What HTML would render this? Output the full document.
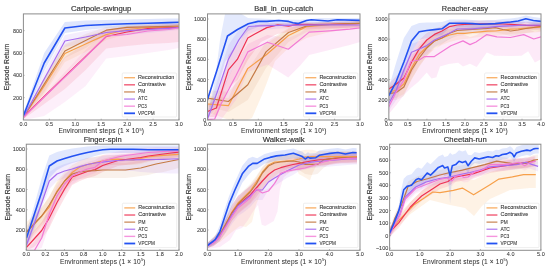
<!DOCTYPE html>
<html><head><meta charset="utf-8"><style>
html,body{margin:0;padding:0;background:#fff;width:550px;height:268px;overflow:hidden}
svg{display:block;filter:blur(0.3px)}
text{font-family:"Liberation Sans",sans-serif;fill:#333333;stroke:#333333;stroke-width:0.00px}
.tk{font-size:5.50px;stroke-width:0.05px}
.ti{font-size:7.0px;stroke-width:0.15px}
.xl{font-size:6.6px;stroke-width:0.05px}
.yl{font-size:6.5px;stroke-width:0.15px}
.lg{font-size:5.3px;stroke-width:0.08px}
</style></head><body>
<svg width="550" height="268" viewBox="0 0 550 268">
<rect width="550" height="268" fill="#fff"/>
<clipPath id="c0"><rect x="23.4" y="13.9" width="155.6" height="106.1"/></clipPath>
<g clip-path="url(#c0)">
<polygon points="23.5,116.0 44.2,95.0 64.9,72.0 85.6,50.0 106.3,30.0 127.0,28.0 147.7,27.0 168.4,25.0 178.8,24.0 178.8,48.0 168.4,50.0 147.7,53.0 127.0,56.0 106.3,58.6 85.6,86.0 64.9,102.0 44.2,116.0 23.5,120.0" fill="#f27ad6" fill-opacity="0.12"/>
<polygon points="23.5,115.0 44.2,84.0 64.9,57.0 85.6,43.0 106.3,30.0 127.0,27.0 147.7,25.0 168.4,24.0 178.8,23.5 178.8,42.0 168.4,43.0 147.7,44.0 127.0,46.0 106.3,48.5 85.6,70.0 64.9,89.0 44.2,104.0 23.5,119.0" fill="#ee3152" fill-opacity="0.11"/>
<polygon points="23.5,115.0 44.2,78.0 64.9,45.0 85.6,36.0 106.3,30.0 127.0,26.0 147.7,25.0 168.4,24.5 178.8,24.0 178.8,29.5 168.4,30.0 147.7,31.0 127.0,34.0 106.3,40.0 85.6,52.0 64.9,62.0 44.2,94.0 23.5,119.0" fill="#f7a04a" fill-opacity="0.12"/>
<polygon points="23.5,115.0 44.2,78.0 64.9,44.0 85.6,34.0 106.3,27.0 127.0,24.5 147.7,24.0 168.4,23.5 178.8,23.0 178.8,29.0 168.4,29.0 147.7,30.0 127.0,31.0 106.3,34.0 85.6,48.0 64.9,58.0 44.2,92.0 23.5,119.0" fill="#c47a45" fill-opacity="0.10"/>
<polygon points="23.5,115.0 44.2,72.0 64.9,35.0 85.6,31.0 106.3,28.0 127.0,26.5 147.7,26.0 168.4,25.0 178.8,24.5 178.8,30.0 168.4,31.0 147.7,33.0 127.0,35.0 106.3,37.0 85.6,43.0 64.9,47.0 44.2,88.0 23.5,119.0" fill="#a66cf0" fill-opacity="0.12"/>
<polygon points="23.5,113.0 44.2,53.0 64.9,22.0 85.6,20.5 106.3,20.0 127.0,19.5 147.7,19.0 168.4,18.5 178.8,18.5 178.8,25.0 168.4,25.5 147.7,26.0 127.0,27.0 106.3,28.0 85.6,30.0 64.9,33.0 44.2,71.0 23.5,118.0" fill="#2352f2" fill-opacity="0.15"/>
<polyline points="23.5,117.0 44.2,86.0 64.9,53.5 85.6,44.0 106.3,34.6 127.0,29.5 147.7,27.5 168.4,27.1 178.8,26.8" fill="none" stroke="#f7a04a" stroke-width="1.20" stroke-linejoin="round"/>
<polyline points="23.5,117.0 44.2,96.5 64.9,76.5 85.6,56.5 106.3,36.5 127.0,32.0 147.7,28.5 168.4,27.9 178.8,27.4" fill="none" stroke="#ee3152" stroke-width="1.20" stroke-linejoin="round"/>
<polyline points="23.5,117.0 44.2,84.0 64.9,51.0 85.6,40.5 106.3,30.2 127.0,27.3 147.7,26.8 168.4,26.4 178.8,26.0" fill="none" stroke="#c47a45" stroke-width="1.20" stroke-linejoin="round"/>
<polyline points="23.5,117.0 44.2,79.0 64.9,41.0 85.6,37.0 106.3,32.5 127.0,30.7 147.7,29.5 168.4,28.3 178.8,27.5" fill="none" stroke="#a66cf0" stroke-width="1.20" stroke-linejoin="round"/>
<polyline points="23.5,117.3 44.2,97.0 64.9,77.0 85.6,57.0 106.3,36.0 127.0,34.5 147.7,31.0 168.4,29.5 178.8,28.0" fill="none" stroke="#f27ad6" stroke-width="1.20" stroke-linejoin="round"/>
<polyline points="23.5,115.5 44.2,63.0 64.9,28.0 85.6,25.5 106.3,24.5 127.0,23.7 147.7,23.2 168.4,22.6 178.8,22.3" fill="none" stroke="#2352f2" stroke-width="1.60" stroke-linejoin="round"/>
</g>
<line x1="23.40" y1="118.70" x2="23.40" y2="120.00" stroke="#8c8c8c" stroke-width="0.6"/>
<text x="23.40" y="125.60" text-anchor="middle" class="tk">0.0</text>
<line x1="49.33" y1="118.70" x2="49.33" y2="120.00" stroke="#8c8c8c" stroke-width="0.6"/>
<text x="49.33" y="125.60" text-anchor="middle" class="tk">0.5</text>
<line x1="75.27" y1="118.70" x2="75.27" y2="120.00" stroke="#8c8c8c" stroke-width="0.6"/>
<text x="75.27" y="125.60" text-anchor="middle" class="tk">1.0</text>
<line x1="101.20" y1="118.70" x2="101.20" y2="120.00" stroke="#8c8c8c" stroke-width="0.6"/>
<text x="101.20" y="125.60" text-anchor="middle" class="tk">1.5</text>
<line x1="127.14" y1="118.70" x2="127.14" y2="120.00" stroke="#8c8c8c" stroke-width="0.6"/>
<text x="127.14" y="125.60" text-anchor="middle" class="tk">2.0</text>
<line x1="153.07" y1="118.70" x2="153.07" y2="120.00" stroke="#8c8c8c" stroke-width="0.6"/>
<text x="153.07" y="125.60" text-anchor="middle" class="tk">2.5</text>
<line x1="179.01" y1="118.70" x2="179.01" y2="120.00" stroke="#8c8c8c" stroke-width="0.6"/>
<text x="179.01" y="125.60" text-anchor="middle" class="tk">3.0</text>
<line x1="23.40" y1="97.67" x2="24.70" y2="97.67" stroke="#8c8c8c" stroke-width="0.6"/>
<text x="22.10" y="99.77" text-anchor="end" class="tk">200</text>
<line x1="23.40" y1="75.33" x2="24.70" y2="75.33" stroke="#8c8c8c" stroke-width="0.6"/>
<text x="22.10" y="77.43" text-anchor="end" class="tk">400</text>
<line x1="23.40" y1="53.00" x2="24.70" y2="53.00" stroke="#8c8c8c" stroke-width="0.6"/>
<text x="22.10" y="55.10" text-anchor="end" class="tk">600</text>
<line x1="23.40" y1="30.66" x2="24.70" y2="30.66" stroke="#8c8c8c" stroke-width="0.6"/>
<text x="22.10" y="32.76" text-anchor="end" class="tk">800</text>
<rect x="23.40" y="13.90" width="155.60" height="106.10" fill="none" stroke="#8c8c8c" stroke-width="1.00"/>
<text x="101.20" y="11.40" text-anchor="middle" class="ti" textLength="60.4" lengthAdjust="spacingAndGlyphs">Cartpole-swingup</text>
<text x="101.20" y="133.20" text-anchor="middle" class="xl" textLength="85.4" lengthAdjust="spacing">Environment steps (1 × 10<tspan dy="-2.2" font-size="3.8">5</tspan><tspan dy="2.2">)</tspan></text>
<text transform="translate(9.30,66.95) rotate(-90)" text-anchor="middle" class="yl" textLength="46.4" lengthAdjust="spacingAndGlyphs">Episode Return</text>
<rect x="122.20" y="73.00" width="54.40" height="44.00" rx="1" fill="#fff" fill-opacity="0.8" stroke="#e2e2e2" stroke-width="0.6"/>
<line x1="124.10" y1="77.70" x2="135.00" y2="77.70" stroke="#f7a04a" stroke-width="1.40" stroke-opacity="0.80"/>
<text x="138.10" y="79.10" class="lg" textLength="36.3" lengthAdjust="spacingAndGlyphs">Reconstruction</text>
<line x1="124.10" y1="84.82" x2="135.00" y2="84.82" stroke="#ee3152" stroke-width="1.40" stroke-opacity="0.80"/>
<text x="138.10" y="86.22" class="lg" textLength="27.8" lengthAdjust="spacingAndGlyphs">Contrastive</text>
<line x1="124.10" y1="91.94" x2="135.00" y2="91.94" stroke="#c47a45" stroke-width="1.40" stroke-opacity="0.80"/>
<text x="138.10" y="93.34" class="lg" textLength="7.2" lengthAdjust="spacingAndGlyphs">PM</text>
<line x1="124.10" y1="99.06" x2="135.00" y2="99.06" stroke="#a66cf0" stroke-width="1.40" stroke-opacity="0.80"/>
<text x="138.10" y="100.46" class="lg" textLength="9.4" lengthAdjust="spacingAndGlyphs">ATC</text>
<line x1="124.10" y1="106.18" x2="135.00" y2="106.18" stroke="#f27ad6" stroke-width="1.40" stroke-opacity="0.80"/>
<text x="138.10" y="107.58" class="lg" textLength="8.7" lengthAdjust="spacingAndGlyphs">PC3</text>
<line x1="124.10" y1="113.30" x2="135.00" y2="113.30" stroke="#2352f2" stroke-width="1.80" stroke-opacity="1.00"/>
<text x="138.10" y="114.70" class="lg" textLength="16.6" lengthAdjust="spacingAndGlyphs">VPCPM</text>
<clipPath id="c1"><rect x="207.5" y="13.9" width="152.5" height="106.1"/></clipPath>
<g clip-path="url(#c1)">
<polygon points="207.5,96.0 228.4,98.0 247.8,55.0 252.0,52.0 262.0,46.0 266.0,44.0 275.0,38.0 288.5,29.0 306.5,23.0 330.0,22.0 350.0,21.5 360.0,21.0 360.0,28.0 350.0,29.0 330.0,32.0 306.5,38.0 288.5,48.0 275.0,61.0 266.0,85.0 262.0,95.0 252.0,118.0 247.8,119.7 228.4,119.7 207.5,112.0" fill="#f7a04a" fill-opacity="0.14"/>
<polygon points="207.5,90.0 228.4,92.0 247.8,70.0 266.0,42.0 288.5,28.0 306.5,23.0 330.0,22.0 350.0,21.5 360.0,21.0 360.0,27.0 350.0,28.0 330.0,29.0 306.5,32.0 288.5,42.0 266.0,68.0 247.8,100.0 228.4,112.0 207.5,106.0" fill="#c47a45" fill-opacity="0.10"/>
<polygon points="207.5,119.0 214.7,112.0 221.0,92.0 235.9,62.0 247.8,44.0 267.4,35.0 288.3,38.0 300.0,33.0 309.2,26.0 329.5,25.0 349.8,24.5 360.0,24.0 360.0,42.0 349.8,45.0 329.5,50.0 309.2,55.0 300.0,65.7 288.3,77.4 267.4,64.4 247.8,72.0 235.9,100.0 221.0,119.7 214.7,119.7 207.5,119.7" fill="#f27ad6" fill-opacity="0.16"/>
<polygon points="207.5,104.0 216.4,100.0 228.4,55.0 237.3,45.0 247.8,28.0 260.9,24.0 277.4,23.0 300.0,22.5 315.0,22.5 340.0,21.5 360.0,21.0 360.0,27.0 340.0,28.0 315.0,29.0 300.0,30.0 277.4,34.0 260.9,42.0 247.8,60.0 237.3,80.0 228.4,88.0 216.4,117.0 207.5,117.0" fill="#ee3152" fill-opacity="0.14"/>
<polygon points="207.5,114.0 218.0,78.0 228.4,45.0 238.8,30.0 248.5,22.5 260.0,22.5 280.0,22.5 300.0,22.5 320.0,22.5 340.0,22.5 360.0,22.5 360.0,27.5 340.0,27.5 320.0,27.5 300.0,28.0 280.0,28.5 260.0,30.0 248.5,34.0 238.8,56.0 228.4,78.0 218.0,105.0 207.5,119.7" fill="#a66cf0" fill-opacity="0.12"/>
<polygon points="207.5,112.0 212.0,95.0 216.0,72.0 220.0,40.0 225.0,14.0 240.0,13.0 248.0,18.0 260.0,18.5 280.0,19.5 300.0,19.8 320.0,18.0 340.0,18.0 360.0,18.0 360.0,23.2 340.0,23.5 320.0,24.0 300.0,26.0 280.0,26.0 260.0,26.0 248.0,31.0 240.0,40.0 225.0,62.0 220.0,80.0 216.0,95.0 212.0,110.0 207.5,119.7" fill="#2352f2" fill-opacity="0.12"/>
<polyline points="207.5,104.0 228.4,105.7 247.8,68.4 266.0,55.0 288.5,35.5 306.5,26.6 330.0,24.6 350.0,23.8 360.0,23.3" fill="none" stroke="#f7a04a" stroke-width="1.20" stroke-linejoin="round"/>
<polyline points="207.5,111.5 216.4,108.0 228.4,69.9 237.3,59.4 247.8,38.0 254.8,34.0 266.8,27.6 277.7,24.9 288.6,26.2 297.3,24.4 315.0,24.5 340.0,24.0 360.0,23.5" fill="none" stroke="#ee3152" stroke-width="1.20" stroke-linejoin="round"/>
<polyline points="207.5,98.2 228.4,101.5 247.8,84.8 266.0,51.9 288.5,32.5 306.5,26.0 330.0,24.5 350.0,23.6 360.0,23.4" fill="none" stroke="#c47a45" stroke-width="1.20" stroke-linejoin="round"/>
<polyline points="207.5,119.0 218.0,90.0 228.4,59.4 238.8,40.0 248.5,26.5 260.0,25.8 280.0,25.4 300.0,25.2 320.0,24.8 340.0,24.8 360.0,25.0" fill="none" stroke="#a66cf0" stroke-width="1.20" stroke-linejoin="round"/>
<polyline points="207.5,119.7 214.7,119.0 221.0,104.0 235.9,75.8 247.8,51.9 267.4,42.2 288.3,49.2 309.2,32.1 329.5,30.8 349.8,29.2 360.0,27.9" fill="none" stroke="#f27ad6" stroke-width="1.20" stroke-linejoin="round"/>
<polyline points="207.5,99.5 217.0,70.0 227.5,36.0 237.5,29.5 248.3,23.8 258.1,21.4 266.8,21.4 278.8,20.5 288.6,21.4 293.0,22.7 298.4,23.6 301.7,22.2 306.5,20.5 311.2,19.8 328.0,21.0 337.3,19.8 360.0,20.4" fill="none" stroke="#2352f2" stroke-width="1.60" stroke-linejoin="round"/>
</g>
<line x1="207.50" y1="118.70" x2="207.50" y2="120.00" stroke="#8c8c8c" stroke-width="0.6"/>
<text x="207.50" y="125.60" text-anchor="middle" class="tk">0.0</text>
<line x1="232.91" y1="118.70" x2="232.91" y2="120.00" stroke="#8c8c8c" stroke-width="0.6"/>
<text x="232.91" y="125.60" text-anchor="middle" class="tk">0.5</text>
<line x1="258.33" y1="118.70" x2="258.33" y2="120.00" stroke="#8c8c8c" stroke-width="0.6"/>
<text x="258.33" y="125.60" text-anchor="middle" class="tk">1.0</text>
<line x1="283.75" y1="118.70" x2="283.75" y2="120.00" stroke="#8c8c8c" stroke-width="0.6"/>
<text x="283.75" y="125.60" text-anchor="middle" class="tk">1.5</text>
<line x1="309.16" y1="118.70" x2="309.16" y2="120.00" stroke="#8c8c8c" stroke-width="0.6"/>
<text x="309.16" y="125.60" text-anchor="middle" class="tk">2.0</text>
<line x1="334.57" y1="118.70" x2="334.57" y2="120.00" stroke="#8c8c8c" stroke-width="0.6"/>
<text x="334.57" y="125.60" text-anchor="middle" class="tk">2.5</text>
<line x1="359.99" y1="118.70" x2="359.99" y2="120.00" stroke="#8c8c8c" stroke-width="0.6"/>
<text x="359.99" y="125.60" text-anchor="middle" class="tk">3.0</text>
<line x1="207.50" y1="119.90" x2="208.80" y2="119.90" stroke="#8c8c8c" stroke-width="0.6"/>
<text x="206.20" y="122.00" text-anchor="end" class="tk">0</text>
<line x1="207.50" y1="99.72" x2="208.80" y2="99.72" stroke="#8c8c8c" stroke-width="0.6"/>
<text x="206.20" y="101.82" text-anchor="end" class="tk">200</text>
<line x1="207.50" y1="79.54" x2="208.80" y2="79.54" stroke="#8c8c8c" stroke-width="0.6"/>
<text x="206.20" y="81.64" text-anchor="end" class="tk">400</text>
<line x1="207.50" y1="59.36" x2="208.80" y2="59.36" stroke="#8c8c8c" stroke-width="0.6"/>
<text x="206.20" y="61.46" text-anchor="end" class="tk">600</text>
<line x1="207.50" y1="39.18" x2="208.80" y2="39.18" stroke="#8c8c8c" stroke-width="0.6"/>
<text x="206.20" y="41.28" text-anchor="end" class="tk">800</text>
<line x1="207.50" y1="19.00" x2="208.80" y2="19.00" stroke="#8c8c8c" stroke-width="0.6"/>
<text x="206.20" y="21.10" text-anchor="end" class="tk">1000</text>
<rect x="207.50" y="13.90" width="152.50" height="106.10" fill="none" stroke="#8c8c8c" stroke-width="1.00"/>
<text x="283.75" y="11.40" text-anchor="middle" class="ti" textLength="58.9" lengthAdjust="spacingAndGlyphs">Ball_in_cup-catch</text>
<text x="283.75" y="133.20" text-anchor="middle" class="xl" textLength="85.4" lengthAdjust="spacing">Environment steps (1 × 10<tspan dy="-2.2" font-size="3.8">5</tspan><tspan dy="2.2">)</tspan></text>
<text transform="translate(191.00,66.95) rotate(-90)" text-anchor="middle" class="yl" textLength="46.4" lengthAdjust="spacingAndGlyphs">Episode Return</text>
<rect x="303.50" y="73.00" width="54.40" height="44.00" rx="1" fill="#fff" fill-opacity="0.8" stroke="#e2e2e2" stroke-width="0.6"/>
<line x1="305.40" y1="77.70" x2="316.30" y2="77.70" stroke="#f7a04a" stroke-width="1.40" stroke-opacity="0.80"/>
<text x="319.40" y="79.10" class="lg" textLength="36.3" lengthAdjust="spacingAndGlyphs">Reconstruction</text>
<line x1="305.40" y1="84.82" x2="316.30" y2="84.82" stroke="#ee3152" stroke-width="1.40" stroke-opacity="0.80"/>
<text x="319.40" y="86.22" class="lg" textLength="27.8" lengthAdjust="spacingAndGlyphs">Contrastive</text>
<line x1="305.40" y1="91.94" x2="316.30" y2="91.94" stroke="#c47a45" stroke-width="1.40" stroke-opacity="0.80"/>
<text x="319.40" y="93.34" class="lg" textLength="7.2" lengthAdjust="spacingAndGlyphs">PM</text>
<line x1="305.40" y1="99.06" x2="316.30" y2="99.06" stroke="#a66cf0" stroke-width="1.40" stroke-opacity="0.80"/>
<text x="319.40" y="100.46" class="lg" textLength="9.4" lengthAdjust="spacingAndGlyphs">ATC</text>
<line x1="305.40" y1="106.18" x2="316.30" y2="106.18" stroke="#f27ad6" stroke-width="1.40" stroke-opacity="0.80"/>
<text x="319.40" y="107.58" class="lg" textLength="8.7" lengthAdjust="spacingAndGlyphs">PC3</text>
<line x1="305.40" y1="113.30" x2="316.30" y2="113.30" stroke="#2352f2" stroke-width="1.80" stroke-opacity="1.00"/>
<text x="319.40" y="114.70" class="lg" textLength="16.6" lengthAdjust="spacingAndGlyphs">VPCPM</text>
<clipPath id="c2"><rect x="388.9" y="13.9" width="152.1" height="106.1"/></clipPath>
<g clip-path="url(#c2)">
<polygon points="388.7,100.0 396.3,84.0 403.9,70.0 410.9,54.0 418.2,52.0 426.7,49.0 431.5,50.0 436.4,48.0 440.0,44.0 448.5,39.0 458.2,34.0 463.0,34.0 470.0,37.0 476.7,35.0 486.8,28.0 494.6,30.0 510.0,31.0 521.5,28.0 528.2,29.0 534.9,32.0 541.0,30.0 541.0,59.2 534.9,62.5 528.2,51.3 521.5,55.8 510.0,56.0 494.6,55.8 486.8,52.5 476.7,67.0 470.0,63.7 463.0,66.4 458.2,62.7 448.5,64.0 440.0,66.4 436.4,77.3 431.5,78.5 426.7,72.4 418.2,82.1 410.9,88.0 403.9,95.0 396.3,105.0 388.7,114.0" fill="#f27ad6" fill-opacity="0.16"/>
<polygon points="388.7,86.0 396.3,82.0 403.9,74.0 411.5,58.0 419.2,45.0 426.8,39.0 434.4,34.0 442.0,31.0 449.6,29.0 457.2,28.0 464.9,28.0 472.5,27.0 480.1,26.5 487.7,26.0 495.3,26.0 502.9,25.5 510.6,25.0 518.2,24.5 525.8,24.0 533.4,23.5 541.0,23.0 541.0,32.0 533.4,32.5 525.8,33.0 518.2,33.5 510.6,34.0 502.9,35.0 495.3,36.0 487.7,36.5 480.1,37.0 472.5,38.0 464.9,39.0 457.2,40.0 449.6,42.0 442.0,45.0 434.4,49.0 426.8,56.0 419.2,66.0 411.5,80.0 403.9,94.0 396.3,98.0 388.7,99.0" fill="#f7a04a" fill-opacity="0.12"/>
<polygon points="388.7,87.0 396.3,85.0 403.9,78.0 411.5,62.0 419.2,50.0 426.8,41.0 434.4,35.0 442.0,32.0 449.6,28.0 457.2,26.0 464.9,25.0 472.5,25.0 480.1,24.5 487.7,24.0 495.3,23.5 502.9,25.0 510.6,26.0 518.2,25.5 525.8,24.5 533.4,23.5 541.0,23.0 541.0,31.0 533.4,32.0 525.8,33.0 518.2,35.0 510.6,36.0 502.9,34.0 495.3,32.5 487.7,33.0 480.1,33.5 472.5,34.0 464.9,35.0 457.2,36.0 449.6,39.0 442.0,44.0 434.4,48.0 426.8,56.0 419.2,67.0 411.5,79.0 403.9,96.0 396.3,100.0 388.7,100.0" fill="#c47a45" fill-opacity="0.10"/>
<polygon points="388.7,84.0 396.3,76.0 403.9,68.0 411.5,52.0 419.2,40.0 426.8,33.0 434.4,29.0 442.0,26.0 449.6,22.0 457.2,21.0 464.9,20.5 472.5,20.5 480.1,20.5 487.7,20.5 495.3,20.5 502.9,21.0 510.6,21.0 518.2,21.5 525.8,22.0 533.4,22.0 541.0,22.5 541.0,30.0 533.4,30.0 525.8,29.5 518.2,29.0 510.6,28.5 502.9,28.0 495.3,27.5 487.7,28.0 480.1,28.0 472.5,28.5 464.9,29.0 457.2,30.0 449.6,32.0 442.0,37.0 434.4,41.0 426.8,48.0 419.2,58.0 411.5,74.0 403.9,88.0 396.3,92.0 388.7,95.0" fill="#ee3152" fill-opacity="0.12"/>
<polygon points="388.7,96.0 396.3,80.0 403.9,60.0 411.5,44.0 419.2,41.0 426.8,38.0 434.4,34.0 442.0,31.0 449.6,28.0 457.2,25.0 464.9,25.0 472.5,25.0 480.1,24.5 487.7,24.0 495.3,23.0 502.9,22.5 510.6,22.0 518.2,22.0 525.8,21.5 533.4,21.5 541.0,21.5 541.0,29.0 533.4,29.0 525.8,29.0 518.2,29.0 510.6,29.5 502.9,30.0 495.3,30.5 487.7,31.0 480.1,32.0 472.5,33.0 464.9,33.0 457.2,34.0 449.6,39.0 442.0,43.0 434.4,47.0 426.8,54.0 419.2,58.0 411.5,62.0 403.9,82.0 396.3,100.0 388.7,111.0" fill="#a66cf0" fill-opacity="0.12"/>
<polygon points="388.7,88.0 396.3,62.0 403.9,38.0 411.5,26.0 419.2,23.0 426.8,22.5 434.4,22.5 442.0,22.0 449.6,19.5 457.2,19.5 464.9,19.5 472.5,20.0 480.1,20.5 487.7,20.0 495.3,20.0 502.9,19.0 510.6,18.5 518.2,17.5 525.8,15.5 533.4,17.0 541.0,18.0 541.0,25.0 533.4,24.5 525.8,22.5 518.2,25.0 510.6,26.0 502.9,26.5 495.3,27.5 487.7,28.0 480.1,28.5 472.5,28.0 464.9,27.5 457.2,27.5 449.6,27.5 442.0,35.0 434.4,36.0 426.8,38.0 419.2,40.0 411.5,52.0 403.9,75.0 396.3,92.0 388.7,103.0" fill="#2352f2" fill-opacity="0.14"/>
<polyline points="388.7,92.5 396.3,90.0 403.9,84.0 411.5,68.0 419.2,54.5 426.8,47.0 434.4,41.1 442.0,38.0 449.6,35.0 457.2,33.3 464.9,33.3 472.5,32.5 480.1,31.8 487.7,31.2 495.3,31.0 502.9,30.2 510.6,29.2 518.2,28.8 525.8,28.2 533.4,27.7 541.0,27.2" fill="none" stroke="#f7a04a" stroke-width="1.20" stroke-linejoin="round"/>
<polyline points="388.7,89.1 396.3,84.0 403.9,78.0 411.5,62.2 419.2,48.9 426.8,40.0 434.4,34.4 442.0,31.0 449.6,26.6 457.2,25.0 464.9,24.3 472.5,24.1 480.1,23.9 487.7,23.8 495.3,23.7 502.9,24.0 510.6,24.3 518.2,24.8 525.8,25.3 533.4,25.6 541.0,25.9" fill="none" stroke="#ee3152" stroke-width="1.20" stroke-linejoin="round"/>
<polyline points="388.7,93.6 396.3,92.5 403.9,87.0 411.5,70.0 419.2,58.0 426.8,48.0 434.4,41.0 442.0,38.0 449.6,33.3 457.2,30.5 464.9,29.9 472.5,29.3 480.1,28.8 487.7,28.3 495.3,27.7 502.9,29.5 510.6,31.0 518.2,30.0 525.8,28.5 533.4,27.5 541.0,26.5" fill="none" stroke="#c47a45" stroke-width="1.20" stroke-linejoin="round"/>
<polyline points="388.7,103.7 396.3,90.0 403.9,70.0 411.5,52.3 419.2,49.0 426.8,45.6 434.4,40.0 442.0,36.6 449.6,33.0 457.2,29.0 464.9,28.8 472.5,28.8 480.1,28.2 487.7,27.5 495.3,26.6 502.9,26.2 510.6,25.8 518.2,25.4 525.8,25.2 533.4,25.1 541.0,25.0" fill="none" stroke="#a66cf0" stroke-width="1.20" stroke-linejoin="round"/>
<polyline points="388.7,107.0 396.3,92.0 403.9,80.0 410.9,61.5 419.2,60.0 424.2,56.7 434.0,56.7 443.6,50.6 450.9,45.8 463.0,40.9 470.0,44.6 476.0,42.0 486.8,34.6 496.9,36.8 510.3,37.5 523.7,34.6 533.8,39.0 541.0,36.8" fill="none" stroke="#f27ad6" stroke-width="1.20" stroke-linejoin="round"/>
<polyline points="388.7,95.9 396.3,81.3 403.9,62.0 411.5,41.1 419.2,31.7 426.8,30.5 434.4,29.6 442.0,28.8 449.6,23.2 457.2,23.2 464.9,23.2 472.5,23.6 480.1,24.3 487.7,24.0 495.3,23.6 502.9,22.7 510.6,22.0 518.2,21.0 525.8,18.7 533.4,20.5 541.0,21.4" fill="none" stroke="#2352f2" stroke-width="1.60" stroke-linejoin="round"/>
</g>
<line x1="388.85" y1="118.70" x2="388.85" y2="120.00" stroke="#8c8c8c" stroke-width="0.6"/>
<text x="388.85" y="125.60" text-anchor="middle" class="tk">0.0</text>
<line x1="407.87" y1="118.70" x2="407.87" y2="120.00" stroke="#8c8c8c" stroke-width="0.6"/>
<text x="407.87" y="125.60" text-anchor="middle" class="tk">0.5</text>
<line x1="426.89" y1="118.70" x2="426.89" y2="120.00" stroke="#8c8c8c" stroke-width="0.6"/>
<text x="426.89" y="125.60" text-anchor="middle" class="tk">1.0</text>
<line x1="445.91" y1="118.70" x2="445.91" y2="120.00" stroke="#8c8c8c" stroke-width="0.6"/>
<text x="445.91" y="125.60" text-anchor="middle" class="tk">1.5</text>
<line x1="464.93" y1="118.70" x2="464.93" y2="120.00" stroke="#8c8c8c" stroke-width="0.6"/>
<text x="464.93" y="125.60" text-anchor="middle" class="tk">2.0</text>
<line x1="483.95" y1="118.70" x2="483.95" y2="120.00" stroke="#8c8c8c" stroke-width="0.6"/>
<text x="483.95" y="125.60" text-anchor="middle" class="tk">2.5</text>
<line x1="502.97" y1="118.70" x2="502.97" y2="120.00" stroke="#8c8c8c" stroke-width="0.6"/>
<text x="502.97" y="125.60" text-anchor="middle" class="tk">3.0</text>
<line x1="521.99" y1="118.70" x2="521.99" y2="120.00" stroke="#8c8c8c" stroke-width="0.6"/>
<text x="521.99" y="125.60" text-anchor="middle" class="tk">3.5</text>
<line x1="541.01" y1="118.70" x2="541.01" y2="120.00" stroke="#8c8c8c" stroke-width="0.6"/>
<text x="541.01" y="125.60" text-anchor="middle" class="tk">4.0</text>
<line x1="388.85" y1="119.90" x2="390.15" y2="119.90" stroke="#8c8c8c" stroke-width="0.6"/>
<text x="387.55" y="122.00" text-anchor="end" class="tk">0</text>
<line x1="388.85" y1="99.72" x2="390.15" y2="99.72" stroke="#8c8c8c" stroke-width="0.6"/>
<text x="387.55" y="101.82" text-anchor="end" class="tk">200</text>
<line x1="388.85" y1="79.54" x2="390.15" y2="79.54" stroke="#8c8c8c" stroke-width="0.6"/>
<text x="387.55" y="81.64" text-anchor="end" class="tk">400</text>
<line x1="388.85" y1="59.36" x2="390.15" y2="59.36" stroke="#8c8c8c" stroke-width="0.6"/>
<text x="387.55" y="61.46" text-anchor="end" class="tk">600</text>
<line x1="388.85" y1="39.18" x2="390.15" y2="39.18" stroke="#8c8c8c" stroke-width="0.6"/>
<text x="387.55" y="41.28" text-anchor="end" class="tk">800</text>
<line x1="388.85" y1="19.00" x2="390.15" y2="19.00" stroke="#8c8c8c" stroke-width="0.6"/>
<text x="387.55" y="21.10" text-anchor="end" class="tk">1000</text>
<rect x="388.85" y="13.90" width="152.15" height="106.10" fill="none" stroke="#8c8c8c" stroke-width="1.00"/>
<text x="464.93" y="11.40" text-anchor="middle" class="ti" textLength="46.3" lengthAdjust="spacingAndGlyphs">Reacher-easy</text>
<text x="464.93" y="133.20" text-anchor="middle" class="xl" textLength="85.4" lengthAdjust="spacing">Environment steps (1 × 10<tspan dy="-2.2" font-size="3.8">5</tspan><tspan dy="2.2">)</tspan></text>
<text transform="translate(372.00,66.95) rotate(-90)" text-anchor="middle" class="yl" textLength="46.4" lengthAdjust="spacingAndGlyphs">Episode Return</text>
<rect x="484.60" y="73.00" width="54.40" height="44.00" rx="1" fill="#fff" fill-opacity="0.8" stroke="#e2e2e2" stroke-width="0.6"/>
<line x1="486.50" y1="77.70" x2="497.40" y2="77.70" stroke="#f7a04a" stroke-width="1.40" stroke-opacity="0.80"/>
<text x="500.50" y="79.10" class="lg" textLength="36.3" lengthAdjust="spacingAndGlyphs">Reconstruction</text>
<line x1="486.50" y1="84.82" x2="497.40" y2="84.82" stroke="#ee3152" stroke-width="1.40" stroke-opacity="0.80"/>
<text x="500.50" y="86.22" class="lg" textLength="27.8" lengthAdjust="spacingAndGlyphs">Contrastive</text>
<line x1="486.50" y1="91.94" x2="497.40" y2="91.94" stroke="#c47a45" stroke-width="1.40" stroke-opacity="0.80"/>
<text x="500.50" y="93.34" class="lg" textLength="7.2" lengthAdjust="spacingAndGlyphs">PM</text>
<line x1="486.50" y1="99.06" x2="497.40" y2="99.06" stroke="#a66cf0" stroke-width="1.40" stroke-opacity="0.80"/>
<text x="500.50" y="100.46" class="lg" textLength="9.4" lengthAdjust="spacingAndGlyphs">ATC</text>
<line x1="486.50" y1="106.18" x2="497.40" y2="106.18" stroke="#f27ad6" stroke-width="1.40" stroke-opacity="0.80"/>
<text x="500.50" y="107.58" class="lg" textLength="8.7" lengthAdjust="spacingAndGlyphs">PC3</text>
<line x1="486.50" y1="113.30" x2="497.40" y2="113.30" stroke="#2352f2" stroke-width="1.80" stroke-opacity="1.00"/>
<text x="500.50" y="114.70" class="lg" textLength="16.6" lengthAdjust="spacingAndGlyphs">VPCPM</text>
<clipPath id="c3"><rect x="26.3" y="144.2" width="152.7" height="106.1"/></clipPath>
<g clip-path="url(#c3)">
<polygon points="26.5,222.0 34.1,215.0 41.7,207.0 49.3,197.0 57.0,181.0 64.6,172.0 72.2,165.0 79.8,161.0 87.4,158.0 95.0,157.0 102.7,155.0 110.3,155.0 117.9,155.0 125.5,155.0 133.1,155.0 140.7,154.0 148.3,153.0 156.0,152.0 163.6,151.5 171.2,151.0 178.8,150.5 178.8,158.0 171.2,158.5 163.6,159.0 156.0,160.0 148.3,162.0 140.7,164.0 133.1,165.0 125.5,165.0 117.9,165.0 110.3,165.0 102.7,166.0 95.0,169.0 87.4,172.0 79.8,175.0 72.2,181.0 64.6,191.0 57.0,202.0 49.3,217.0 41.7,226.0 34.1,235.0 26.5,243.0" fill="#f7a04a" fill-opacity="0.14"/>
<polygon points="26.5,226.0 34.1,217.0 41.7,208.0 49.3,196.0 57.0,183.0 64.6,174.0 72.2,168.0 79.8,165.0 87.4,164.0 95.0,163.5 102.7,163.0 110.3,163.0 117.9,163.0 125.5,163.0 133.1,162.0 140.7,160.0 148.3,158.0 156.0,156.0 163.6,154.5 171.2,153.0 178.8,152.0 178.8,168.0 171.2,170.0 163.6,172.0 156.0,173.0 148.3,175.0 140.7,176.0 133.1,177.0 125.5,178.0 117.9,178.0 110.3,178.0 102.7,178.0 95.0,178.0 87.4,178.0 79.8,179.0 72.2,181.0 64.6,189.0 57.0,200.0 49.3,214.0 41.7,224.0 34.1,232.0 26.5,240.0" fill="#c47a45" fill-opacity="0.10"/>
<polygon points="26.5,240.0 34.1,231.0 41.7,222.0 49.3,209.0 57.0,193.0 64.6,180.0 72.2,170.0 79.8,167.0 87.4,164.0 95.0,162.0 102.7,159.0 110.3,157.0 117.9,155.0 125.5,154.0 133.1,153.0 140.7,152.0 148.3,151.0 156.0,150.0 163.6,149.5 171.2,149.0 178.8,148.5 178.8,157.0 171.2,158.0 163.6,159.0 156.0,160.0 148.3,161.0 140.7,163.0 133.1,164.0 125.5,165.0 117.9,166.0 110.3,169.0 102.7,172.0 95.0,176.0 87.4,178.0 79.8,181.0 72.2,185.0 64.6,198.0 57.0,212.0 49.3,228.0 41.7,239.0 34.1,247.0 26.5,250.2" fill="#ee3152" fill-opacity="0.14"/>
<polygon points="26.5,250.2 34.1,242.0 41.7,228.0 49.3,203.0 57.0,186.0 64.6,175.0 72.2,168.0 79.8,165.0 87.4,162.0 95.0,160.0 102.7,155.0 110.3,153.0 117.9,151.5 125.5,150.0 133.1,149.0 140.7,148.0 148.3,147.5 156.0,147.0 163.6,147.0 171.2,147.0 178.8,147.0 178.8,155.0 171.2,155.5 163.6,156.0 156.0,157.0 148.3,158.0 140.7,159.0 133.1,160.0 125.5,161.0 117.9,163.0 110.3,165.0 102.7,167.0 95.0,173.0 87.4,176.0 79.8,179.0 72.2,184.0 64.6,193.0 57.0,206.0 49.3,226.0 41.7,248.0 34.1,250.2 26.5,250.2" fill="#f27ad6" fill-opacity="0.14"/>
<polygon points="26.5,238.0 34.1,212.0 41.7,188.0 49.3,172.0 57.0,167.0 64.6,164.0 72.2,162.0 79.8,160.0 87.4,158.0 95.0,157.0 102.7,156.0 110.3,155.0 117.9,154.5 125.5,154.0 133.1,154.0 140.7,154.0 148.3,154.0 156.0,154.0 163.6,154.0 171.2,154.0 178.8,154.0 178.8,173.4 171.2,173.4 163.6,173.3 156.0,173.0 148.3,172.5 140.7,172.0 133.1,171.0 125.5,171.0 117.9,170.0 110.3,170.0 102.7,170.0 95.0,171.0 87.4,172.0 79.8,174.0 72.2,176.0 64.6,178.0 57.0,181.0 49.3,189.0 41.7,208.0 34.1,232.0 26.5,250.2" fill="#a66cf0" fill-opacity="0.12"/>
<polygon points="26.5,232.0 34.1,206.0 41.7,178.0 49.3,155.4 57.0,152.0 64.6,150.0 72.2,148.5 79.8,147.5 87.4,146.5 95.0,146.0 102.7,145.5 110.3,145.5 117.9,145.5 125.5,145.5 133.1,145.5 140.7,145.5 148.3,145.5 156.0,145.5 163.6,145.5 171.2,145.5 178.8,145.5 178.8,154.0 171.2,154.0 163.6,154.0 156.0,154.0 148.3,153.5 140.7,153.5 133.1,153.0 125.5,153.0 117.9,153.0 110.3,153.0 102.7,154.0 95.0,156.0 87.4,158.5 79.8,161.0 72.2,163.0 64.6,166.0 57.0,170.0 49.3,178.0 41.7,205.0 34.1,228.0 26.5,248.0" fill="#2352f2" fill-opacity="0.14"/>
<polyline points="26.5,232.3 34.1,224.0 41.7,216.0 49.3,207.0 57.0,191.0 64.6,181.0 72.2,172.5 79.8,167.0 87.4,164.5 95.0,162.8 102.7,161.0 110.3,159.3 117.9,159.2 125.5,159.5 133.1,159.9 140.7,158.5 148.3,157.0 156.0,156.0 163.6,155.3 171.2,154.8 178.8,154.3" fill="none" stroke="#f7a04a" stroke-width="1.20" stroke-linejoin="round"/>
<polyline points="26.5,247.4 34.1,239.0 41.7,230.5 49.3,218.0 57.0,202.5 64.6,189.0 72.2,177.0 79.8,174.3 87.4,171.5 95.0,169.6 102.7,165.5 110.3,163.0 117.9,160.5 125.5,159.5 133.1,158.5 140.7,157.5 148.3,156.0 156.0,155.0 163.6,154.0 171.2,153.0 178.8,152.1" fill="none" stroke="#ee3152" stroke-width="1.20" stroke-linejoin="round"/>
<polyline points="26.5,232.0 34.1,224.0 41.7,216.0 49.3,205.0 57.0,192.0 64.6,181.0 72.2,174.0 79.8,171.8 87.4,171.0 95.0,170.7 102.7,170.0 110.3,170.0 117.9,170.0 125.5,170.0 133.1,169.0 140.7,168.0 148.3,166.0 156.0,164.0 163.6,162.5 171.2,161.0 178.8,159.5" fill="none" stroke="#c47a45" stroke-width="1.20" stroke-linejoin="round"/>
<polyline points="26.5,245.0 34.1,224.0 41.7,203.0 49.3,181.0 57.0,174.0 64.6,171.0 72.2,169.0 79.8,166.6 87.4,164.5 95.0,163.0 102.7,162.1 110.3,161.2 117.9,160.5 125.5,160.0 133.1,159.9 140.7,159.7 148.3,159.6 156.0,159.5 163.6,159.3 171.2,159.0 178.8,158.8" fill="none" stroke="#a66cf0" stroke-width="1.20" stroke-linejoin="round"/>
<polyline points="26.5,262.0 34.1,251.0 41.7,238.0 49.3,214.0 57.0,196.0 64.6,184.0 72.2,176.0 79.8,172.0 87.4,169.0 95.0,167.3 102.7,161.0 110.3,159.0 117.9,157.0 125.5,155.5 133.1,154.5 140.7,153.5 148.3,152.5 156.0,152.0 163.6,151.5 171.2,151.2 178.8,151.0" fill="none" stroke="#f27ad6" stroke-width="1.20" stroke-linejoin="round"/>
<polyline points="26.5,238.0 34.1,215.0 41.7,192.0 49.3,166.0 57.0,161.0 64.6,158.5 72.2,156.2 79.8,154.3 87.4,152.5 95.0,151.0 102.7,149.8 110.3,149.3 117.9,149.2 125.5,149.2 133.1,149.2 140.7,149.5 148.3,149.7 156.0,149.8 163.6,149.8 171.2,149.8 178.8,149.8" fill="none" stroke="#2352f2" stroke-width="1.60" stroke-linejoin="round"/>
</g>
<line x1="26.30" y1="249.00" x2="26.30" y2="250.30" stroke="#8c8c8c" stroke-width="0.6"/>
<text x="26.30" y="255.90" text-anchor="middle" class="tk">0.0</text>
<line x1="45.39" y1="249.00" x2="45.39" y2="250.30" stroke="#8c8c8c" stroke-width="0.6"/>
<text x="45.39" y="255.90" text-anchor="middle" class="tk">0.2</text>
<line x1="64.47" y1="249.00" x2="64.47" y2="250.30" stroke="#8c8c8c" stroke-width="0.6"/>
<text x="64.47" y="255.90" text-anchor="middle" class="tk">0.5</text>
<line x1="83.56" y1="249.00" x2="83.56" y2="250.30" stroke="#8c8c8c" stroke-width="0.6"/>
<text x="83.56" y="255.90" text-anchor="middle" class="tk">0.8</text>
<line x1="102.65" y1="249.00" x2="102.65" y2="250.30" stroke="#8c8c8c" stroke-width="0.6"/>
<text x="102.65" y="255.90" text-anchor="middle" class="tk">1.0</text>
<line x1="121.74" y1="249.00" x2="121.74" y2="250.30" stroke="#8c8c8c" stroke-width="0.6"/>
<text x="121.74" y="255.90" text-anchor="middle" class="tk">1.2</text>
<line x1="140.82" y1="249.00" x2="140.82" y2="250.30" stroke="#8c8c8c" stroke-width="0.6"/>
<text x="140.82" y="255.90" text-anchor="middle" class="tk">1.5</text>
<line x1="159.91" y1="249.00" x2="159.91" y2="250.30" stroke="#8c8c8c" stroke-width="0.6"/>
<text x="159.91" y="255.90" text-anchor="middle" class="tk">1.8</text>
<line x1="179.00" y1="249.00" x2="179.00" y2="250.30" stroke="#8c8c8c" stroke-width="0.6"/>
<text x="179.00" y="255.90" text-anchor="middle" class="tk">2.0</text>
<line x1="26.30" y1="229.96" x2="27.60" y2="229.96" stroke="#8c8c8c" stroke-width="0.6"/>
<text x="25.00" y="232.06" text-anchor="end" class="tk">200</text>
<line x1="26.30" y1="209.72" x2="27.60" y2="209.72" stroke="#8c8c8c" stroke-width="0.6"/>
<text x="25.00" y="211.82" text-anchor="end" class="tk">400</text>
<line x1="26.30" y1="189.48" x2="27.60" y2="189.48" stroke="#8c8c8c" stroke-width="0.6"/>
<text x="25.00" y="191.58" text-anchor="end" class="tk">600</text>
<line x1="26.30" y1="169.24" x2="27.60" y2="169.24" stroke="#8c8c8c" stroke-width="0.6"/>
<text x="25.00" y="171.34" text-anchor="end" class="tk">800</text>
<line x1="26.30" y1="149.00" x2="27.60" y2="149.00" stroke="#8c8c8c" stroke-width="0.6"/>
<text x="25.00" y="151.10" text-anchor="end" class="tk">1000</text>
<rect x="26.30" y="144.20" width="152.70" height="106.10" fill="none" stroke="#8c8c8c" stroke-width="1.00"/>
<text x="102.65" y="141.70" text-anchor="middle" class="ti" textLength="38.0" lengthAdjust="spacingAndGlyphs">Finger-spin</text>
<text x="102.65" y="263.50" text-anchor="middle" class="xl" textLength="85.4" lengthAdjust="spacing">Environment steps (1 × 10<tspan dy="-2.2" font-size="3.8">5</tspan><tspan dy="2.2">)</tspan></text>
<text transform="translate(9.80,197.25) rotate(-90)" text-anchor="middle" class="yl" textLength="46.4" lengthAdjust="spacingAndGlyphs">Episode Return</text>
<rect x="122.40" y="203.20" width="54.30" height="44.40" rx="1" fill="#fff" fill-opacity="0.8" stroke="#e2e2e2" stroke-width="0.6"/>
<line x1="124.30" y1="207.90" x2="135.20" y2="207.90" stroke="#f7a04a" stroke-width="1.40" stroke-opacity="0.80"/>
<text x="138.30" y="209.30" class="lg" textLength="36.3" lengthAdjust="spacingAndGlyphs">Reconstruction</text>
<line x1="124.30" y1="215.02" x2="135.20" y2="215.02" stroke="#ee3152" stroke-width="1.40" stroke-opacity="0.80"/>
<text x="138.30" y="216.42" class="lg" textLength="27.8" lengthAdjust="spacingAndGlyphs">Contrastive</text>
<line x1="124.30" y1="222.14" x2="135.20" y2="222.14" stroke="#c47a45" stroke-width="1.40" stroke-opacity="0.80"/>
<text x="138.30" y="223.54" class="lg" textLength="7.2" lengthAdjust="spacingAndGlyphs">PM</text>
<line x1="124.30" y1="229.26" x2="135.20" y2="229.26" stroke="#a66cf0" stroke-width="1.40" stroke-opacity="0.80"/>
<text x="138.30" y="230.66" class="lg" textLength="9.4" lengthAdjust="spacingAndGlyphs">ATC</text>
<line x1="124.30" y1="236.38" x2="135.20" y2="236.38" stroke="#f27ad6" stroke-width="1.40" stroke-opacity="0.80"/>
<text x="138.30" y="237.78" class="lg" textLength="8.7" lengthAdjust="spacingAndGlyphs">PC3</text>
<line x1="124.30" y1="243.50" x2="135.20" y2="243.50" stroke="#2352f2" stroke-width="1.80" stroke-opacity="1.00"/>
<text x="138.30" y="244.90" class="lg" textLength="16.6" lengthAdjust="spacingAndGlyphs">VPCPM</text>
<clipPath id="c4"><rect x="207.4" y="144.2" width="152.6" height="106.1"/></clipPath>
<g clip-path="url(#c4)">
<polygon points="207.5,243.0 220.0,238.0 230.0,222.0 236.0,212.0 242.0,204.0 248.0,196.0 254.0,188.0 258.0,186.0 261.7,190.0 265.3,190.0 273.8,186.0 277.5,180.0 279.9,170.0 283.5,166.0 290.0,164.0 300.0,162.0 320.0,158.0 340.0,155.0 357.0,154.0 357.0,162.0 340.0,163.0 320.0,166.0 300.0,170.0 290.0,172.0 283.5,177.4 279.9,189.6 277.5,211.4 273.8,221.0 265.3,226.0 261.7,224.8 258.0,205.0 254.0,210.0 248.0,220.0 242.0,228.0 236.0,230.0 230.0,240.0 220.0,247.0 207.5,249.0" fill="#f27ad6" fill-opacity="0.14"/>
<polygon points="207.5,243.0 220.0,230.0 232.0,208.0 240.0,196.0 246.0,190.0 252.0,184.0 256.0,178.0 262.0,168.0 270.0,160.0 280.0,156.0 290.0,154.0 295.9,153.0 298.7,151.0 306.0,149.7 309.9,149.7 312.6,149.7 316.4,151.0 330.0,151.0 340.0,151.0 357.0,151.0 357.0,161.5 340.0,162.0 330.0,164.0 316.4,165.5 312.6,173.0 309.9,180.4 306.0,178.0 298.7,174.0 295.9,166.0 290.0,168.0 280.0,172.0 270.0,180.0 262.0,190.0 256.0,205.0 252.0,222.0 246.0,227.0 240.0,226.0 232.0,232.0 220.0,242.0 207.5,248.0" fill="#f7a04a" fill-opacity="0.13"/>
<polygon points="207.5,243.0 213.6,238.0 219.7,230.0 225.8,218.0 231.9,205.0 238.0,196.0 244.1,190.0 250.2,184.0 256.3,176.0 262.4,167.0 268.5,160.0 274.6,157.0 280.7,156.0 286.9,155.5 293.0,155.0 299.1,155.0 305.2,156.0 311.3,156.0 317.4,156.0 323.5,154.0 329.6,153.0 335.7,152.5 341.8,152.0 347.9,152.0 354.0,152.0 357.0,152.0 357.0,162.5 354.0,162.5 347.9,163.0 341.8,163.0 335.7,163.0 329.6,164.0 323.5,168.0 317.4,174.0 311.3,175.0 305.2,174.0 299.1,170.0 293.0,168.0 286.9,168.0 280.7,169.0 274.6,170.0 268.5,174.0 262.4,182.0 256.3,194.0 250.2,203.0 244.1,208.0 238.0,213.0 231.9,221.0 225.8,232.0 219.7,241.0 213.6,246.0 207.5,248.0" fill="#c47a45" fill-opacity="0.10"/>
<polygon points="207.5,243.0 213.6,238.0 219.7,231.0 225.8,219.0 231.9,205.0 238.0,196.0 244.1,191.0 250.2,186.0 256.3,180.0 262.4,173.0 268.5,167.0 274.6,163.0 280.7,161.0 286.9,159.0 293.0,158.0 299.1,157.0 305.2,156.0 311.3,155.0 317.4,154.0 323.5,153.5 329.6,153.0 335.7,152.5 341.8,152.0 347.9,152.0 354.0,152.0 357.0,152.0 357.0,163.5 354.0,163.5 347.9,163.5 341.8,163.5 335.7,164.0 329.6,165.0 323.5,165.5 317.4,166.0 311.3,167.0 305.2,168.0 299.1,170.0 293.0,171.0 286.9,173.0 280.7,174.5 274.6,177.0 268.5,182.0 262.4,189.0 256.3,197.0 250.2,204.0 244.1,209.0 238.0,214.0 231.9,221.0 225.8,232.0 219.7,241.0 213.6,246.0 207.5,248.0" fill="#ee3152" fill-opacity="0.12"/>
<polygon points="207.5,243.0 213.6,238.0 219.7,231.0 225.8,219.0 231.9,206.0 238.0,196.0 244.1,191.0 250.2,186.0 256.3,180.0 262.4,180.0 268.5,174.0 274.6,170.0 280.7,167.0 286.9,164.0 293.0,161.0 299.1,159.0 305.2,157.5 311.3,156.0 317.4,155.5 323.5,155.0 329.6,154.5 335.7,154.0 341.8,153.5 347.9,153.0 354.0,153.0 357.0,153.0 357.0,164.5 354.0,164.5 347.9,165.0 341.8,165.5 335.7,166.0 329.6,166.5 323.5,167.0 317.4,167.5 311.3,168.0 305.2,169.5 299.1,171.0 293.0,175.0 286.9,178.0 280.7,182.0 274.6,186.0 268.5,190.0 262.4,200.0 256.3,200.0 250.2,207.0 244.1,212.0 238.0,216.0 231.9,224.0 225.8,233.0 219.7,241.0 213.6,246.0 207.5,248.0" fill="#a66cf0" fill-opacity="0.12"/>
<polygon points="207.5,242.4 215.2,235.8 219.9,225.0 224.5,209.7 229.1,195.9 234.9,182.0 242.3,165.8 248.3,158.5 252.7,156.8 257.2,158.2 264.6,153.9 270.0,152.5 276.5,151.0 285.0,150.1 293.4,148.4 302.4,151.8 305.2,154.2 308.0,152.3 309.9,153.4 315.8,153.0 319.2,150.6 324.8,149.6 330.0,148.8 337.9,147.9 345.4,149.4 352.9,148.0 356.6,148.3 356.6,156.8 352.9,156.6 345.4,158.1 337.9,156.7 330.0,157.7 324.8,158.6 319.2,159.7 315.8,162.1 309.9,162.6 308.0,161.6 305.2,163.5 302.4,161.2 293.4,157.9 285.0,159.7 276.5,160.7 270.0,162.3 264.6,163.8 257.2,168.7 252.7,170.5 248.3,175.3 242.3,182.8 234.9,199.0 229.1,212.9 224.5,226.7 219.9,238.8 215.2,243.6 207.5,248.6" fill="#2352f2" fill-opacity="0.15"/>
<polyline points="207.5,245.7 213.6,242.0 219.7,235.0 225.8,224.0 231.9,212.0 238.0,203.0 244.1,197.0 250.2,191.0 256.3,182.0 262.4,172.0 268.5,165.0 274.6,162.0 280.7,161.5 286.9,161.0 293.0,160.5 299.1,159.0 305.2,157.0 311.3,156.6 317.4,156.6 323.5,156.6 329.6,156.6 335.7,156.6 341.8,156.5 347.9,156.5 354.0,156.5 357.0,156.5" fill="none" stroke="#f7a04a" stroke-width="1.20" stroke-linejoin="round"/>
<polyline points="207.5,245.7 213.6,242.0 219.7,236.0 225.8,225.0 231.9,213.0 238.0,205.0 244.1,200.0 250.2,195.0 256.3,188.0 262.4,181.0 268.5,174.5 274.6,170.0 280.7,167.7 286.9,166.0 293.0,164.5 299.1,163.3 305.2,162.0 311.3,161.0 317.4,160.0 323.5,159.5 329.6,158.8 335.7,158.3 341.8,158.0 347.9,157.8 354.0,157.7 357.0,157.7" fill="none" stroke="#ee3152" stroke-width="1.20" stroke-linejoin="round"/>
<polyline points="207.5,245.7 213.6,242.0 219.7,235.0 225.8,224.0 231.9,213.0 238.0,204.0 244.1,198.0 250.2,192.0 256.3,184.0 262.4,173.0 268.5,166.0 274.6,163.0 280.7,162.0 286.9,161.3 293.0,161.0 299.1,162.0 305.2,164.4 311.3,164.4 317.4,164.4 323.5,160.0 329.6,158.8 335.7,158.0 341.8,157.7 347.9,157.5 354.0,157.3 357.0,157.3" fill="none" stroke="#c47a45" stroke-width="1.20" stroke-linejoin="round"/>
<polyline points="207.5,245.7 213.6,242.0 219.7,236.0 225.8,226.0 231.9,215.0 238.0,206.0 244.1,201.0 250.2,196.0 256.3,190.0 262.4,190.0 268.5,182.0 274.6,178.0 280.7,174.5 286.9,171.0 293.0,168.0 299.1,165.0 305.2,163.5 311.3,162.1 317.4,161.5 323.5,161.0 329.6,160.5 335.7,160.0 341.8,159.5 347.9,159.0 354.0,158.8 357.0,158.8" fill="none" stroke="#a66cf0" stroke-width="1.20" stroke-linejoin="round"/>
<polyline points="207.5,246.0 213.6,243.0 219.7,237.0 225.8,227.0 231.9,217.0 238.0,208.0 244.1,203.0 250.2,198.0 256.3,189.0 262.4,193.0 268.5,191.0 274.6,183.4 280.7,173.3 286.9,171.1 293.0,170.0 299.1,169.0 305.2,168.0 311.3,166.0 317.4,164.0 323.5,162.0 329.6,160.5 335.7,159.5 341.8,158.8 347.9,158.4 354.0,158.1 357.0,158.1" fill="none" stroke="#f27ad6" stroke-width="1.20" stroke-linejoin="round"/>
<polyline points="207.5,245.5 215.2,239.7 219.9,231.6 224.5,217.7 229.1,203.9 234.9,190.0 242.3,173.8 248.3,166.4 252.7,163.4 257.2,163.4 264.6,158.9 270.0,157.4 276.5,155.9 285.0,155.0 293.4,153.2 302.4,156.6 305.2,159.0 308.0,157.1 309.9,158.1 315.8,157.7 319.2,155.3 324.8,154.3 330.0,153.4 337.9,152.5 345.4,154.0 352.9,152.5 356.6,152.8" fill="none" stroke="#2352f2" stroke-width="1.60" stroke-linejoin="round"/>
</g>
<line x1="207.40" y1="249.00" x2="207.40" y2="250.30" stroke="#8c8c8c" stroke-width="0.6"/>
<text x="207.40" y="255.90" text-anchor="middle" class="tk">0.0</text>
<line x1="237.92" y1="249.00" x2="237.92" y2="250.30" stroke="#8c8c8c" stroke-width="0.6"/>
<text x="237.92" y="255.90" text-anchor="middle" class="tk">1.0</text>
<line x1="268.44" y1="249.00" x2="268.44" y2="250.30" stroke="#8c8c8c" stroke-width="0.6"/>
<text x="268.44" y="255.90" text-anchor="middle" class="tk">2.0</text>
<line x1="298.96" y1="249.00" x2="298.96" y2="250.30" stroke="#8c8c8c" stroke-width="0.6"/>
<text x="298.96" y="255.90" text-anchor="middle" class="tk">3.0</text>
<line x1="329.48" y1="249.00" x2="329.48" y2="250.30" stroke="#8c8c8c" stroke-width="0.6"/>
<text x="329.48" y="255.90" text-anchor="middle" class="tk">4.0</text>
<line x1="360.00" y1="249.00" x2="360.00" y2="250.30" stroke="#8c8c8c" stroke-width="0.6"/>
<text x="360.00" y="255.90" text-anchor="middle" class="tk">5.0</text>
<line x1="207.40" y1="229.96" x2="208.70" y2="229.96" stroke="#8c8c8c" stroke-width="0.6"/>
<text x="206.10" y="232.06" text-anchor="end" class="tk">200</text>
<line x1="207.40" y1="209.72" x2="208.70" y2="209.72" stroke="#8c8c8c" stroke-width="0.6"/>
<text x="206.10" y="211.82" text-anchor="end" class="tk">400</text>
<line x1="207.40" y1="189.48" x2="208.70" y2="189.48" stroke="#8c8c8c" stroke-width="0.6"/>
<text x="206.10" y="191.58" text-anchor="end" class="tk">600</text>
<line x1="207.40" y1="169.24" x2="208.70" y2="169.24" stroke="#8c8c8c" stroke-width="0.6"/>
<text x="206.10" y="171.34" text-anchor="end" class="tk">800</text>
<line x1="207.40" y1="149.00" x2="208.70" y2="149.00" stroke="#8c8c8c" stroke-width="0.6"/>
<text x="206.10" y="151.10" text-anchor="end" class="tk">1000</text>
<rect x="207.40" y="144.20" width="152.60" height="106.10" fill="none" stroke="#8c8c8c" stroke-width="1.00"/>
<text x="283.70" y="141.70" text-anchor="middle" class="ti" textLength="42.0" lengthAdjust="spacingAndGlyphs">Walker-walk</text>
<text x="283.70" y="263.50" text-anchor="middle" class="xl" textLength="85.4" lengthAdjust="spacing">Environment steps (1 × 10<tspan dy="-2.2" font-size="3.8">5</tspan><tspan dy="2.2">)</tspan></text>
<text transform="translate(190.90,197.25) rotate(-90)" text-anchor="middle" class="yl" textLength="46.4" lengthAdjust="spacingAndGlyphs">Episode Return</text>
<rect x="303.50" y="203.20" width="54.40" height="44.40" rx="1" fill="#fff" fill-opacity="0.8" stroke="#e2e2e2" stroke-width="0.6"/>
<line x1="305.40" y1="207.90" x2="316.30" y2="207.90" stroke="#f7a04a" stroke-width="1.40" stroke-opacity="0.80"/>
<text x="319.40" y="209.30" class="lg" textLength="36.3" lengthAdjust="spacingAndGlyphs">Reconstruction</text>
<line x1="305.40" y1="215.02" x2="316.30" y2="215.02" stroke="#ee3152" stroke-width="1.40" stroke-opacity="0.80"/>
<text x="319.40" y="216.42" class="lg" textLength="27.8" lengthAdjust="spacingAndGlyphs">Contrastive</text>
<line x1="305.40" y1="222.14" x2="316.30" y2="222.14" stroke="#c47a45" stroke-width="1.40" stroke-opacity="0.80"/>
<text x="319.40" y="223.54" class="lg" textLength="7.2" lengthAdjust="spacingAndGlyphs">PM</text>
<line x1="305.40" y1="229.26" x2="316.30" y2="229.26" stroke="#a66cf0" stroke-width="1.40" stroke-opacity="0.80"/>
<text x="319.40" y="230.66" class="lg" textLength="9.4" lengthAdjust="spacingAndGlyphs">ATC</text>
<line x1="305.40" y1="236.38" x2="316.30" y2="236.38" stroke="#f27ad6" stroke-width="1.40" stroke-opacity="0.80"/>
<text x="319.40" y="237.78" class="lg" textLength="8.7" lengthAdjust="spacingAndGlyphs">PC3</text>
<line x1="305.40" y1="243.50" x2="316.30" y2="243.50" stroke="#2352f2" stroke-width="1.80" stroke-opacity="1.00"/>
<text x="319.40" y="244.90" class="lg" textLength="16.6" lengthAdjust="spacingAndGlyphs">VPCPM</text>
<clipPath id="c5"><rect x="389.6" y="144.2" width="151.3" height="106.1"/></clipPath>
<g clip-path="url(#c5)">
<polygon points="389.6,228.0 398.7,214.0 410.5,202.0 430.0,183.0 450.0,178.0 465.0,178.0 474.0,180.0 482.0,176.0 490.0,172.0 510.0,166.0 530.0,165.0 535.8,165.0 535.8,188.0 530.0,188.0 510.0,190.0 490.0,199.0 482.0,206.0 474.0,216.0 465.0,208.0 450.0,205.0 430.0,200.0 410.5,214.0 398.7,226.0 389.6,236.0" fill="#f7a04a" fill-opacity="0.14"/>
<polygon points="389.6,228.0 395.0,213.0 401.4,200.0 408.1,181.5 417.1,176.5 428.3,173.5 440.0,170.0 448.0,168.0 462.4,165.2 484.8,159.6 496.7,156.2 512.4,158.5 525.8,158.5 533.6,155.1 538.0,154.5 538.0,164.5 533.6,165.1 525.8,168.5 512.4,168.5 496.7,166.2 484.8,169.6 462.4,175.2 448.0,178.0 440.0,180.0 428.3,183.5 417.1,186.5 408.1,191.5 401.4,210.0 395.0,223.0 389.6,238.0" fill="#c47a45" fill-opacity="0.10"/>
<polygon points="389.6,228.3 400.0,209.0 405.3,192.0 415.7,182.0 426.1,177.0 439.2,173.5 450.0,172.0 460.0,169.5 470.0,167.5 480.0,165.0 490.0,161.8 503.4,160.7 516.8,159.6 525.8,157.4 532.5,159.6 538.1,161.4 538.1,171.4 532.5,169.6 525.8,167.4 516.8,169.6 503.4,170.7 490.0,171.8 480.0,175.0 470.0,177.5 460.0,179.5 450.0,182.0 439.2,183.5 426.1,187.0 415.7,192.0 405.3,202.0 400.0,219.0 389.6,238.3" fill="#a66cf0" fill-opacity="0.12"/>
<polygon points="389.6,229.0 400.0,210.0 405.3,194.0 415.7,183.5 426.1,179.5 439.2,174.5 447.0,173.0 452.0,176.0 456.0,171.0 460.0,170.5 464.0,172.5 468.0,172.0 475.0,166.5 482.0,165.0 490.0,159.6 503.4,159.6 512.4,158.5 519.1,157.4 524.7,160.7 530.2,157.4 535.8,156.2 535.8,166.2 530.2,167.4 524.7,170.7 519.1,167.4 512.4,168.5 503.4,169.6 490.0,169.6 482.0,175.0 475.0,176.5 468.0,182.0 464.0,182.5 460.0,180.5 456.0,181.0 452.0,186.0 447.0,183.0 439.2,184.5 426.1,189.5 415.7,193.5 405.3,204.0 400.0,220.0 389.6,239.0" fill="#f27ad6" fill-opacity="0.12"/>
<polygon points="389.6,227.0 398.7,217.9 410.4,202.0 421.6,191.0 432.8,183.7 440.0,179.0 448.0,176.5 453.4,172.5 473.6,168.6 490.0,163.0 512.4,159.6 534.7,156.2 534.7,166.2 512.4,169.6 490.0,173.0 473.6,178.6 453.4,182.5 448.0,186.5 440.0,189.0 432.8,193.7 421.6,201.0 410.4,212.0 398.7,227.9 389.6,237.0" fill="#ee3152" fill-opacity="0.12"/>
<polygon points="389.6,229.3 393.5,220.2 398.7,207.1 400.3,194.0 403.7,178.8 407.0,175.4 411.5,174.3 416.0,168.7 418.2,167.6 421.6,168.7 427.2,162.0 430.5,164.2 433.9,160.9 438.4,156.4 442.8,154.6 444.5,157.0 447.8,155.9 450.1,152.8 452.3,154.7 455.7,153.6 459.0,150.3 462.4,151.4 465.7,150.3 468.0,154.7 471.3,155.3 474.7,151.9 479.2,153.0 483.7,151.9 488.1,150.8 492.6,151.5 496.0,149.7 498.9,150.1 502.3,148.5 506.8,147.9 510.1,146.3 512.4,147.9 514.1,150.8 516.4,147.0 521.3,145.2 526.9,144.1 530.2,144.7 533.6,142.9 535.8,142.5 538.7,142.5 538.7,153.5 535.8,153.5 533.6,153.9 530.2,155.7 526.9,155.1 521.3,156.2 516.4,158.0 514.1,161.8 512.4,158.9 510.1,157.3 506.8,158.9 502.3,159.5 498.9,161.1 496.0,160.7 492.6,162.5 488.1,161.8 483.7,162.9 479.2,164.0 474.7,162.9 471.3,166.3 468.0,173.7 465.7,169.3 462.4,170.4 459.0,169.3 455.7,172.6 452.3,173.7 450.1,203.8 447.8,174.9 444.5,176.0 442.8,173.6 438.4,175.4 433.9,179.9 430.5,183.2 427.2,181.0 421.6,187.7 418.2,186.6 416.0,187.7 411.5,193.3 407.0,194.4 403.7,197.8 400.3,213.0 398.7,215.1 393.5,228.2 389.6,237.3" fill="#2352f2" fill-opacity="0.14"/>
<polyline points="389.6,232.0 398.7,220.3 410.5,208.5 413.7,205.0 424.9,197.6 432.8,192.0 440.0,192.6 453.4,190.4 462.4,188.1 473.6,194.8 490.0,184.7 498.9,179.1 512.4,176.9 523.5,174.7 535.8,174.7" fill="none" stroke="#f7a04a" stroke-width="1.20" stroke-linejoin="round"/>
<polyline points="389.6,232.0 398.7,222.9 410.4,207.0 421.6,196.0 432.8,188.7 440.0,184.0 448.0,181.5 453.4,177.5 473.6,173.6 490.0,168.0 512.4,164.6 534.7,161.2" fill="none" stroke="#ee3152" stroke-width="1.20" stroke-linejoin="round"/>
<polyline points="389.6,233.0 395.0,218.0 401.4,205.0 408.1,186.5 417.1,181.5 428.3,178.5 440.0,175.0 448.0,173.0 462.4,170.2 484.8,164.6 496.7,161.2 512.4,163.5 525.8,163.5 533.6,160.1 538.0,159.5" fill="none" stroke="#c47a45" stroke-width="1.20" stroke-linejoin="round"/>
<polyline points="389.6,233.3 400.0,214.0 405.3,197.0 415.7,187.0 426.1,182.0 439.2,178.5 450.0,177.0 460.0,174.5 470.0,172.5 480.0,170.0 490.0,166.8 503.4,165.7 516.8,164.6 525.8,162.4 532.5,164.6 538.1,166.4" fill="none" stroke="#a66cf0" stroke-width="1.20" stroke-linejoin="round"/>
<polyline points="389.6,234.0 400.0,215.0 405.3,199.0 415.7,188.5 426.1,184.5 439.2,179.5 447.0,178.0 452.0,181.0 456.0,176.0 460.0,175.5 464.0,177.5 468.0,177.0 475.0,171.5 482.0,170.0 490.0,164.6 503.4,164.6 512.4,163.5 519.1,162.4 524.7,165.7 530.2,162.4 535.8,161.2" fill="none" stroke="#f27ad6" stroke-width="1.20" stroke-linejoin="round"/>
<polyline points="389.6,233.3 393.5,224.2 398.7,211.1 400.3,205.0 403.7,189.8 407.0,186.4 411.5,185.3 416.0,179.7 418.2,178.6 421.6,179.7 427.2,173.0 430.5,175.2 433.9,171.9 438.4,167.4 442.8,165.6 444.5,168.0 447.8,166.9 450.1,175.8 452.3,165.7 455.7,164.6 459.0,161.3 462.4,162.4 465.7,161.3 468.0,165.7 471.3,161.3 474.7,157.9 479.2,159.0 483.7,157.9 488.1,156.8 492.6,157.5 496.0,155.7 498.9,156.1 502.3,154.5 506.8,153.9 510.1,152.3 512.4,153.9 514.1,156.8 516.4,153.0 521.3,151.2 526.9,150.1 530.2,150.7 533.6,148.9 535.8,148.5 538.7,148.5" fill="none" stroke="#2352f2" stroke-width="1.60" stroke-linejoin="round"/>
</g>
<line x1="389.60" y1="249.00" x2="389.60" y2="250.30" stroke="#8c8c8c" stroke-width="0.6"/>
<text x="389.60" y="255.90" text-anchor="middle" class="tk">0.0</text>
<line x1="419.86" y1="249.00" x2="419.86" y2="250.30" stroke="#8c8c8c" stroke-width="0.6"/>
<text x="419.86" y="255.90" text-anchor="middle" class="tk">1.0</text>
<line x1="450.12" y1="249.00" x2="450.12" y2="250.30" stroke="#8c8c8c" stroke-width="0.6"/>
<text x="450.12" y="255.90" text-anchor="middle" class="tk">2.0</text>
<line x1="480.38" y1="249.00" x2="480.38" y2="250.30" stroke="#8c8c8c" stroke-width="0.6"/>
<text x="480.38" y="255.90" text-anchor="middle" class="tk">3.0</text>
<line x1="510.64" y1="249.00" x2="510.64" y2="250.30" stroke="#8c8c8c" stroke-width="0.6"/>
<text x="510.64" y="255.90" text-anchor="middle" class="tk">4.0</text>
<line x1="540.90" y1="249.00" x2="540.90" y2="250.30" stroke="#8c8c8c" stroke-width="0.6"/>
<text x="540.90" y="255.90" text-anchor="middle" class="tk">5.0</text>
<line x1="389.60" y1="248.17" x2="390.90" y2="248.17" stroke="#8c8c8c" stroke-width="0.6"/>
<text x="388.30" y="250.27" text-anchor="end" class="tk">−100</text>
<line x1="389.60" y1="235.60" x2="390.90" y2="235.60" stroke="#8c8c8c" stroke-width="0.6"/>
<text x="388.30" y="237.70" text-anchor="end" class="tk">0</text>
<line x1="389.60" y1="223.03" x2="390.90" y2="223.03" stroke="#8c8c8c" stroke-width="0.6"/>
<text x="388.30" y="225.13" text-anchor="end" class="tk">100</text>
<line x1="389.60" y1="210.46" x2="390.90" y2="210.46" stroke="#8c8c8c" stroke-width="0.6"/>
<text x="388.30" y="212.56" text-anchor="end" class="tk">200</text>
<line x1="389.60" y1="197.89" x2="390.90" y2="197.89" stroke="#8c8c8c" stroke-width="0.6"/>
<text x="388.30" y="199.99" text-anchor="end" class="tk">300</text>
<line x1="389.60" y1="185.32" x2="390.90" y2="185.32" stroke="#8c8c8c" stroke-width="0.6"/>
<text x="388.30" y="187.42" text-anchor="end" class="tk">400</text>
<line x1="389.60" y1="172.75" x2="390.90" y2="172.75" stroke="#8c8c8c" stroke-width="0.6"/>
<text x="388.30" y="174.85" text-anchor="end" class="tk">500</text>
<line x1="389.60" y1="160.18" x2="390.90" y2="160.18" stroke="#8c8c8c" stroke-width="0.6"/>
<text x="388.30" y="162.28" text-anchor="end" class="tk">600</text>
<line x1="389.60" y1="147.61" x2="390.90" y2="147.61" stroke="#8c8c8c" stroke-width="0.6"/>
<text x="388.30" y="149.71" text-anchor="end" class="tk">700</text>
<rect x="389.60" y="144.20" width="151.30" height="106.10" fill="none" stroke="#8c8c8c" stroke-width="1.00"/>
<text x="465.25" y="141.70" text-anchor="middle" class="ti" textLength="42.9" lengthAdjust="spacingAndGlyphs">Cheetah-run</text>
<text x="465.25" y="263.50" text-anchor="middle" class="xl" textLength="85.4" lengthAdjust="spacing">Environment steps (1 × 10<tspan dy="-2.2" font-size="3.8">5</tspan><tspan dy="2.2">)</tspan></text>
<text transform="translate(372.00,197.25) rotate(-90)" text-anchor="middle" class="yl" textLength="46.4" lengthAdjust="spacingAndGlyphs">Episode Return</text>
<rect x="484.60" y="203.20" width="54.40" height="44.40" rx="1" fill="#fff" fill-opacity="0.8" stroke="#e2e2e2" stroke-width="0.6"/>
<line x1="486.50" y1="207.90" x2="497.40" y2="207.90" stroke="#f7a04a" stroke-width="1.40" stroke-opacity="0.80"/>
<text x="500.50" y="209.30" class="lg" textLength="36.3" lengthAdjust="spacingAndGlyphs">Reconstruction</text>
<line x1="486.50" y1="215.02" x2="497.40" y2="215.02" stroke="#ee3152" stroke-width="1.40" stroke-opacity="0.80"/>
<text x="500.50" y="216.42" class="lg" textLength="27.8" lengthAdjust="spacingAndGlyphs">Contrastive</text>
<line x1="486.50" y1="222.14" x2="497.40" y2="222.14" stroke="#c47a45" stroke-width="1.40" stroke-opacity="0.80"/>
<text x="500.50" y="223.54" class="lg" textLength="7.2" lengthAdjust="spacingAndGlyphs">PM</text>
<line x1="486.50" y1="229.26" x2="497.40" y2="229.26" stroke="#a66cf0" stroke-width="1.40" stroke-opacity="0.80"/>
<text x="500.50" y="230.66" class="lg" textLength="9.4" lengthAdjust="spacingAndGlyphs">ATC</text>
<line x1="486.50" y1="236.38" x2="497.40" y2="236.38" stroke="#f27ad6" stroke-width="1.40" stroke-opacity="0.80"/>
<text x="500.50" y="237.78" class="lg" textLength="8.7" lengthAdjust="spacingAndGlyphs">PC3</text>
<line x1="486.50" y1="243.50" x2="497.40" y2="243.50" stroke="#2352f2" stroke-width="1.80" stroke-opacity="1.00"/>
<text x="500.50" y="244.90" class="lg" textLength="16.6" lengthAdjust="spacingAndGlyphs">VPCPM</text>
</svg>
</body></html>
